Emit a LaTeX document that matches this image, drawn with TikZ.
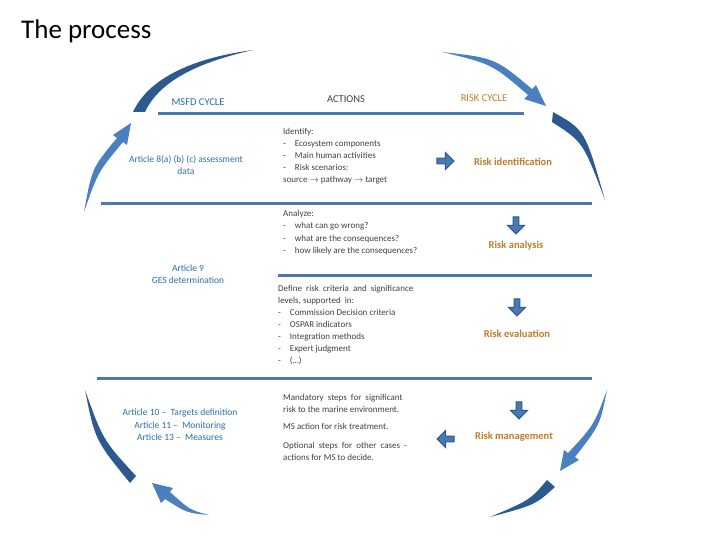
\documentclass[tikz,border=0pt]{standalone}
\usepackage{fontspec}
\setmainfont{Carlito}
\usetikzlibrary{shapes.arrows}
\definecolor{lineblue}{HTML}{4A7AB0}
\definecolor{arcblue}{HTML}{4A80C0}
\definecolor{darkb}{HTML}{2C5A90}
\definecolor{orng}{HTML}{C07A2A}
\definecolor{artblue}{HTML}{2A6EA6}
\definecolor{txt}{HTML}{404040}
\begin{document}
\begin{tikzpicture}[x=1pt,y=-1pt,
  sep/.style={lineblue,line width=3pt},
  arc/.style={fill=arcblue,draw=none},
  small/.style={font=\fontsize{9}{11}\selectfont,text=txt,inner sep=0pt,anchor=base west},
  head/.style={font=\fontsize{10.5}{12}\selectfont,inner sep=0pt},
  risk/.style={font=\bfseries\fontsize{10.5}{12}\selectfont,text=orng,inner sep=0pt},
  art/.style={font=\fontsize{9.5}{12}\selectfont,text=artblue,inner sep=0pt},
  barrow/.style={single arrow,fill=lineblue,draw=darkb,line width=1pt,minimum height=17pt,minimum width=17pt,single arrow head extend=3pt,inner sep=1pt}]
\useasboundingbox (0,0) rectangle (720,540);
\node[anchor=west,inner sep=0pt,font=\fontsize{27}{30}\selectfont] (title) at (21,31) {The process};
% separators
\coordinate (l1a) at (158,114); \coordinate (l1b) at (524,114);
\coordinate (l2a) at (101,204); \coordinate (l2b) at (592,204);
\coordinate (l3a) at (278,275); \coordinate (l3b) at (592,275);
\coordinate (l4a) at (97,378); \coordinate (l4b) at (592,378);
\draw[sep] (l1a)--(l1b); \draw[sep] (l2a)--(l2b); \draw[sep] (l3a)--(l3b); \draw[sep] (l4a)--(l4b);
% cycle arcs
\fill[arc] (84,212) .. controls (92,168) .. (117,138) -- (113,135) -- (131,123) -- (127,145) -- (123,142) .. controls (98,172) .. (84,212) -- cycle;
\fill[darkb] (133,112) .. controls (150,75) and (200,57) .. (253,50) .. controls (200,62) and (160,80) .. (145,112) -- cycle;
\fill[arc] (442,52) .. controls (495,58) .. (532,89) -- (536,85) -- (546,106) -- (524,99) -- (528,95) .. controls (492,64) .. (442,52) -- cycle;
\fill[darkb] (553,112) .. controls (585,130) .. (605,200) .. controls (583,142) .. (552,122) -- cycle;
\fill[arc] (607,390) .. controls (600,425) .. (575,457) -- (579,460) -- (560,471) -- (564,450) -- (568,453) .. controls (594,425) .. (607,390) -- cycle;
\fill[darkb] (547,480) .. controls (530,500) .. (490,517) .. controls (535,505) .. (555,487) -- cycle;
\fill[darkb] (85,390) .. controls (95,440) .. (130,483) -- (136,476) .. controls (103,440) .. (85,390) -- cycle;
\fill[arc] (209,515) .. controls (190,510) .. (170,492) -- (173,488) -- (152,483) -- (161,503) -- (165,499) .. controls (187,513) .. (209,515) -- cycle;
% headers
\node[head,text=artblue] (msfd) at (198,102) {MSFD CYCLE};
\node[head,text=txt] (act) at (346,99) {ACTIONS};
\node[head,text=orng] (rc) at (484,98) {RISK CYCLE};
% articles
\node[art,align=center] (a8) at (186,165) {Article 8(a) (b) (c) assessment\\data};
\node[art,align=center] (a9) at (188,274) {Article 9\\GES determination};
\node[art,align=center,font=\fontsize{9.5}{12.5}\selectfont] (a10) at (180,425) {Article 10 – \ Targets definition\\Article 11 – \ Monitoring\\Article 13 – \ Measures};
% identify
\node[small] (i0) at (283,135) {Identify:};
\node[small] (i1) at (283,147) {-\hspace{9pt}Ecosystem components};
\node[small] (i2) at (283,159) {-\hspace{9pt}Main human activities};
\node[small] (i3) at (283,171) {-\hspace{9pt}Risk scenarios:};
\node[small] (i4) at (283,183) {source $\rightarrow$ pathway $\rightarrow$ target};
% analyze
\node[small] (n0) at (283,217) {Analyze:};
\node[small] (n1) at (283,229) {-\hspace{9pt}what can go wrong?};
\node[small] (n2) at (283,241) {-\hspace{9pt}what are the consequences?};
\node[small] (n3) at (283,253) {-\hspace{9pt}how likely are the consequences?};
% define
\node[small] (d0) at (278,291) {Define \ risk \ criteria \ and \ significance};
\node[small] (d1) at (278,303) {levels, supported \ in:};
\node[small] (d2) at (278,315) {-\hspace{9pt}Commission Decision criteria};
\node[small] (d3) at (278,327) {-\hspace{9pt}OSPAR indicators};
\node[small] (d4) at (278,339) {-\hspace{9pt}Integration methods};
\node[small] (d5) at (278,351) {-\hspace{9pt}Expert judgment};
\node[small] (d6) at (278,363) {-\hspace{9pt}(…)};
% mandatory
\node[small] (m0) at (283,400) {Mandatory \ steps \ for \ significant};
\node[small] (m1) at (283,412) {risk to the marine environment.};
\node[small] (m2) at (283,429) {MS action for risk treatment.};
\node[small] (m3) at (283,448) {Optional \ steps \ for \ other \ cases \ -};
\node[small] (m4) at (283,460) {actions for MS to decide.};
% risk labels
\node[risk] (r1) at (513,162) {Risk identification};
\node[risk] (r2) at (516,246) {Risk analysis};
\node[risk] (r3) at (517,334) {Risk evaluation};
\node[risk] (r4) at (514,437) {Risk management};
% block arrows
\node[barrow] (b1) at (444,161) {};
\node[barrow,rotate=-90] (b2) at (516,224) {};
\node[barrow,rotate=-90] (b3) at (517,306) {};
\node[barrow,rotate=-90] (b4) at (519,409) {};
\node[barrow,rotate=180] (b5) at (447,439) {};
\end{tikzpicture}
\end{document}
